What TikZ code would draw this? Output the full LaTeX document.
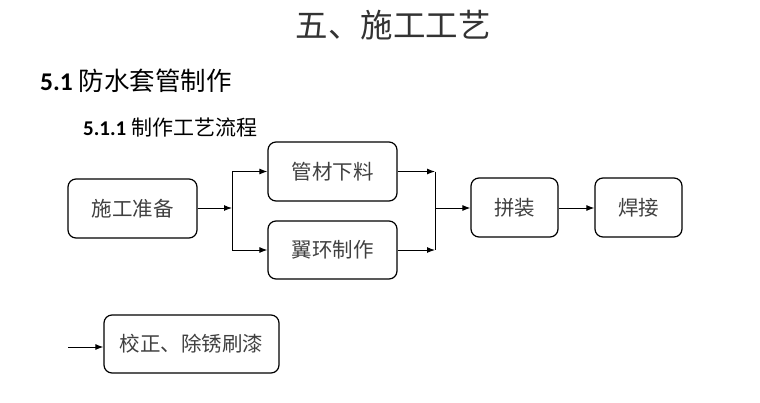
\documentclass[tikz,border=0pt]{standalone}
\usepackage{fontspec}
\setmainfont{Carlito}
\newfontfamily\cjk{Noto Sans CJK SC}
\usetikzlibrary{arrows.meta}
\begin{document}
\begin{tikzpicture}[x=1pt,y=-1pt,
  box/.style={draw, line width=1.2pt, rounded corners=8pt, inner sep=0pt, font=\cjk\fontsize{20.5}{20.5}\selectfont, text=black!75},
  arr/.style={line width=1pt, -{Latex[length=8pt,width=6pt]}},
  ln/.style={line width=1pt}]
\useasboundingbox (0,0) rectangle (760,402);
\node[font=\cjk\fontsize{32.5}{32.5}\selectfont, text=black!80] (title) at (393,25) {五、施工工艺};
\node[anchor=west, inner sep=0pt] (h1) at (40,81) {\fontsize{25.5}{25.5}\selectfont\textbf{5.1} {\cjk 防水套管制作}};
\node[anchor=west, inner sep=0pt] (h2) at (83,128) {\fontsize{21}{21}\selectfont\textbf{5.1.1} {\cjk 制作工艺流程}};
\node[box, minimum width=129pt, minimum height=59pt] (prep) at (132.5,208.5) {施工准备};
\node[box, minimum width=129pt, minimum height=59pt] (pipe) at (332.5,171.5) {管材下料};
\node[box, minimum width=129pt, minimum height=58pt] (ring) at (332.5,250) {翼环制作};
\node[box, minimum width=87pt, minimum height=59pt] (asm) at (514.5,207.5) {拼装};
\node[box, minimum width=87pt, minimum height=59pt] (weld) at (638.5,207.5) {焊接};
\node[box, minimum width=175pt, minimum height=58pt] (fix) at (191.5,344) {校正、除锈刷漆};
\coordinate (s1) at (232,208);
\coordinate (s2) at (435,208);
\coordinate (fin) at (68,347);
\draw[arr] (prep.east |- s1) -- (s1);
\draw[ln] (s1 |- pipe.west) -- (s1 |- ring.west);
\draw[arr] (s1 |- pipe.west) -- (pipe.west);
\draw[arr] (s1 |- ring.west) -- (ring.west);
\draw[arr] (pipe.east) -- (s2 |- pipe.east);
\draw[arr] (ring.east) -- (s2 |- ring.east);
\draw[ln] (s2 |- pipe.east) -- (s2 |- ring.east);
\draw[arr] (s2) -- (asm.west |- s2);
\draw[arr] (asm.east |- s2) -- (weld.west |- s2);
\draw[arr] (fin) -- (fix.west |- fin);
\end{tikzpicture}
\end{document}
